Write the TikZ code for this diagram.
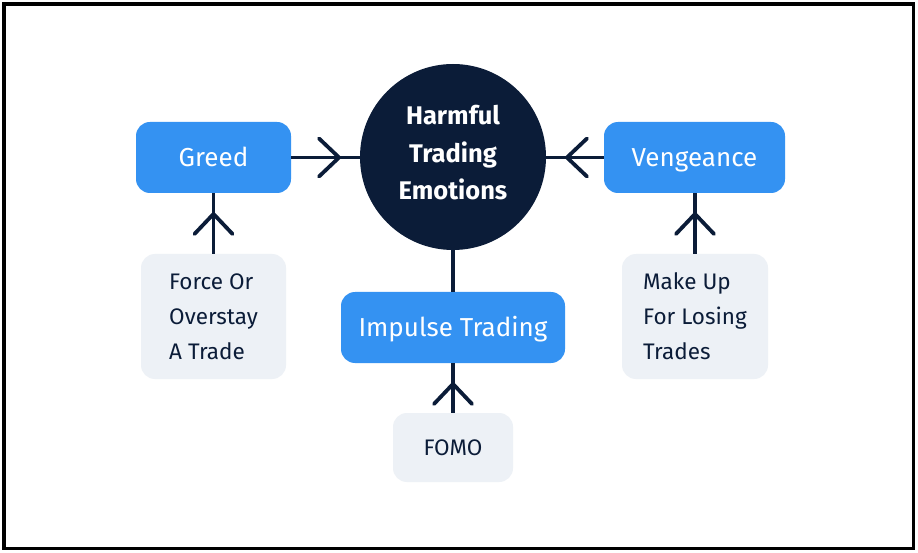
\documentclass[tikz,border=0pt]{standalone}
\usepackage{fontspec}
\setmainfont{Fira Sans}
\usetikzlibrary{arrows.meta,decorations.markings}
\definecolor{navy}{HTML}{0B1C38}
\definecolor{bluebox}{HTML}{3492F2}
\definecolor{graybox}{HTML}{EDF1F6}
\begin{document}
\begin{tikzpicture}[x=1pt,y=-1pt,
  mainbox/.style={draw=none,fill=bluebox,rounded corners=14pt,text=white,font=\fontsize{26}{30}\selectfont,inner sep=0pt,text height=18pt,text depth=0pt},
  causebox/.style={draw=none,fill=graybox,rounded corners=14pt,text=navy,font=\fontsize{22.5}{35}\selectfont,inner sep=0pt,align=left},
  link/.style={draw=navy,line width=3.8pt},
  barb/.style={link,postaction={decorate},decoration={markings,mark=at position -18pt with {\arrow[navy,line width=3.8pt]{Straight Barb[length=20pt,width=38pt,line cap=round]}}}}
]
\useasboundingbox (0,0) rectangle (918,553);
\fill[white] (0,0) rectangle (918,553);
\draw[black,line width=3.8pt] (4,4) rectangle (913.5,548.5);

\node[circle,fill=navy,minimum size=186pt,inner sep=0pt,text=white,align=center,text depth=9pt,font=\bfseries\fontsize{25.5}{37.5}\selectfont] (core) at (453,157) {Harmful\\Trading\\Emotions};

\node[mainbox,minimum width=155pt,minimum height=71pt] (greed) at (213.5,157.5) {Greed};
\node[mainbox,minimum width=181pt,minimum height=71pt] (veng) at (694.5,157.5) {Vengeance};
\node[mainbox,minimum width=224pt,minimum height=71pt] (impulse) at (453,327.5) {Impulse Trading};

\node[causebox,minimum width=145pt,minimum height=125pt] (force) at (213.5,316.5) {Force Or\\Overstay\\A Trade};
\node[causebox,minimum width=146pt,minimum height=125pt] (makeup) at (695,316.5) {Make Up\\For Losing\\Trades};
\node[causebox,minimum width=120pt,minimum height=69pt,align=center] (fomo) at (453,447.5) {FOMO};

\draw[barb] (greed.east) -- (core.west |- greed.east);
\draw[barb] (veng.west) -- (core.east |- veng.west);
\draw[barb] (force.north) -- (force.north |- greed.south);
\draw[barb] (makeup.north) -- (makeup.north |- veng.south);
\draw[barb] (fomo.north) -- (impulse.south);
\draw[link] (core.south) -- (impulse.north);
\end{tikzpicture}
\end{document}
